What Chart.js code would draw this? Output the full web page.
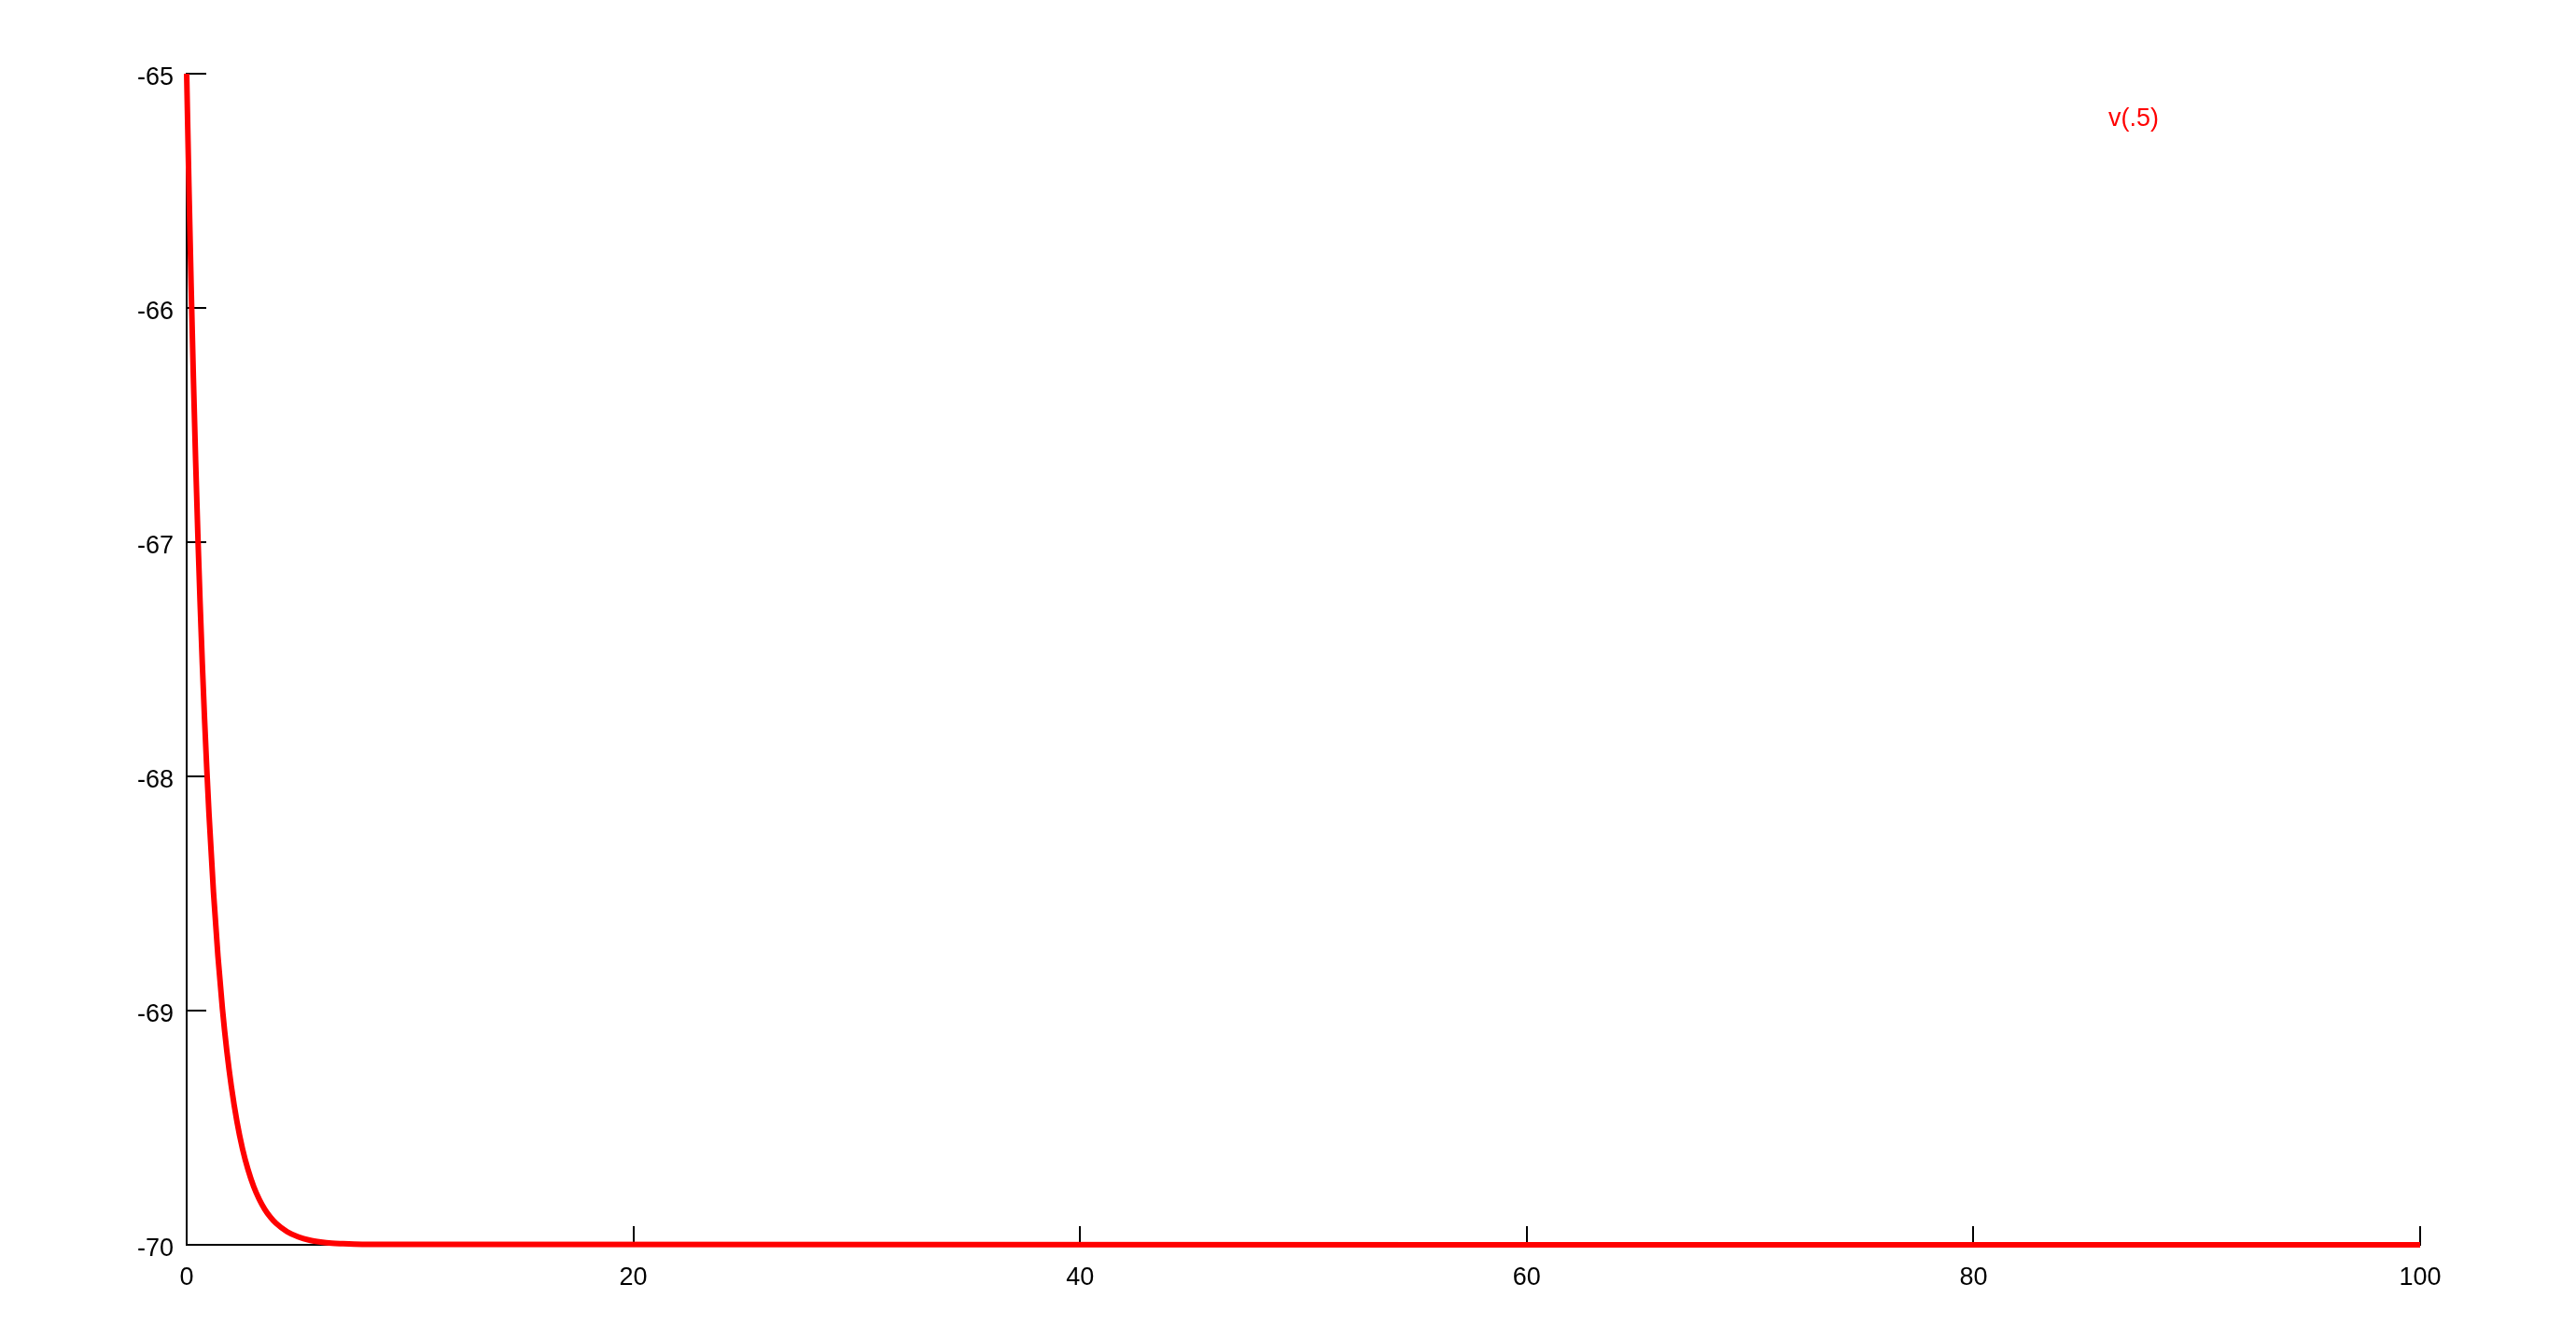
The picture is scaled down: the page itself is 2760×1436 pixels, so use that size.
<!DOCTYPE html>
<html>
<head>
<meta charset="utf-8">
<script src="https://cdn.jsdelivr.net/npm/chart.js@4"></script>
<style>
  html, body { margin: 0; padding: 0; background: #ffffff; }
  #wrap { width: 2760px; height: 1436px; position: relative; }
</style>
</head>
<body>
<div id="wrap"><canvas id="c"></canvas></div>
<script>
// Time samples (x) and membrane value v(.5)
const times = [0, 0.1, 0.2, 0.3, 0.4, 0.5, 0.6, 0.7, 0.8, 0.9, 1.0, 1.2, 1.4, 1.6, 1.8, 2.0, 2.25, 2.5, 2.75, 3.0, 3.25, 3.5, 3.75, 4.0, 4.5, 5.0, 5.5, 6.0, 6.5, 7.0, 8.0, 100];
const vHalf = [-65.000, -65.476, -65.906, -66.296, -66.648, -66.967, -67.256, -67.517, -67.753, -67.967, -68.161, -68.494, -68.767, -68.991, -69.174, -69.323, -69.473, -69.590, -69.680, -69.751, -69.806, -69.849, -69.882, -69.908, -69.944, -69.966, -69.980, -69.988, -69.993, -69.995, -69.998, -70.000];
const seriesLabel = 'v(.5)';
const xTicks = [0, 20, 40, 60, 80, 100];
const yTicks = [-70, -69, -68, -67, -66, -65];

const points = times.map((t, i) => ({ x: t, y: vHalf[i] }));

const inwardTicks = {
  id: 'inwardTicks',
  beforeDatasetsDraw(chart) {
    const ctx = chart.ctx;
    const xs = chart.scales.x, ys = chart.scales.y;
    const area = chart.chartArea;
    ctx.save();
    ctx.strokeStyle = '#000000';
    ctx.lineWidth = 2;
    ctx.beginPath();
    xTicks.forEach(v => {
      const px = Math.round(xs.getPixelForValue(v));
      ctx.moveTo(px, area.bottom);
      ctx.lineTo(px, area.bottom - 20);
    });
    yTicks.forEach(v => {
      const py = Math.round(ys.getPixelForValue(v));
      ctx.moveTo(area.left, py);
      ctx.lineTo(area.left + 21, py);
    });
    ctx.stroke();
    ctx.restore();
  }
};

const textLegend = {
  id: 'textLegend',
  afterDraw(chart) {
    const ctx = chart.ctx;
    ctx.save();
    ctx.fillStyle = '#ff0000';
    ctx.font = '27px "Liberation Sans", Arial, sans-serif';
    ctx.textBaseline = 'middle';
    ctx.textAlign = 'left';
    ctx.fillText(chart.data.datasets[0].label, 2259, 128);
    ctx.restore();
  }
};

new Chart(document.getElementById('c'), {
  type: 'line',
  data: {
    datasets: [{
      label: seriesLabel,
      data: points,
      borderColor: '#ff0000',
      borderWidth: 6,
      pointRadius: 0,
      cubicInterpolationMode: 'monotone',
      fill: false,
      clip: false
    }]
  },
  options: {
    responsive: true,
    maintainAspectRatio: false,
    devicePixelRatio: 1,
    animation: false,
    layout: { padding: { top: 79, right: 167, left: 0, bottom: 0 } },
    plugins: { legend: { display: false }, tooltip: { enabled: false } },
    scales: {
      x: {
        type: 'linear',
        min: 0, max: 100,
        afterBuildTicks(scale) { scale.ticks = xTicks.map(v => ({ value: v })); },
        afterFit(scale) { scale.height = 102; },
        grid: { display: false },
        border: { display: true, color: '#000000', width: 2 },
        ticks: { color: '#000000', padding: 11, maxRotation: 0, font: { family: '"Liberation Sans", Arial, sans-serif', size: 27 } }
      },
      y: {
        type: 'linear',
        min: -70, max: -65,
        afterBuildTicks(scale) { scale.ticks = yTicks.map(v => ({ value: v })); },
        afterFit(scale) { scale.width = 200; },
        grid: { display: false },
        border: { display: true, color: '#000000', width: 2 },
        ticks: { color: '#000000', padding: 6, labelOffset: 5, font: { family: '"Liberation Sans", Arial, sans-serif', size: 27 } }
      }
    }
  },
  plugins: [inwardTicks, textLegend]
});
</script>
</body>
</html>
